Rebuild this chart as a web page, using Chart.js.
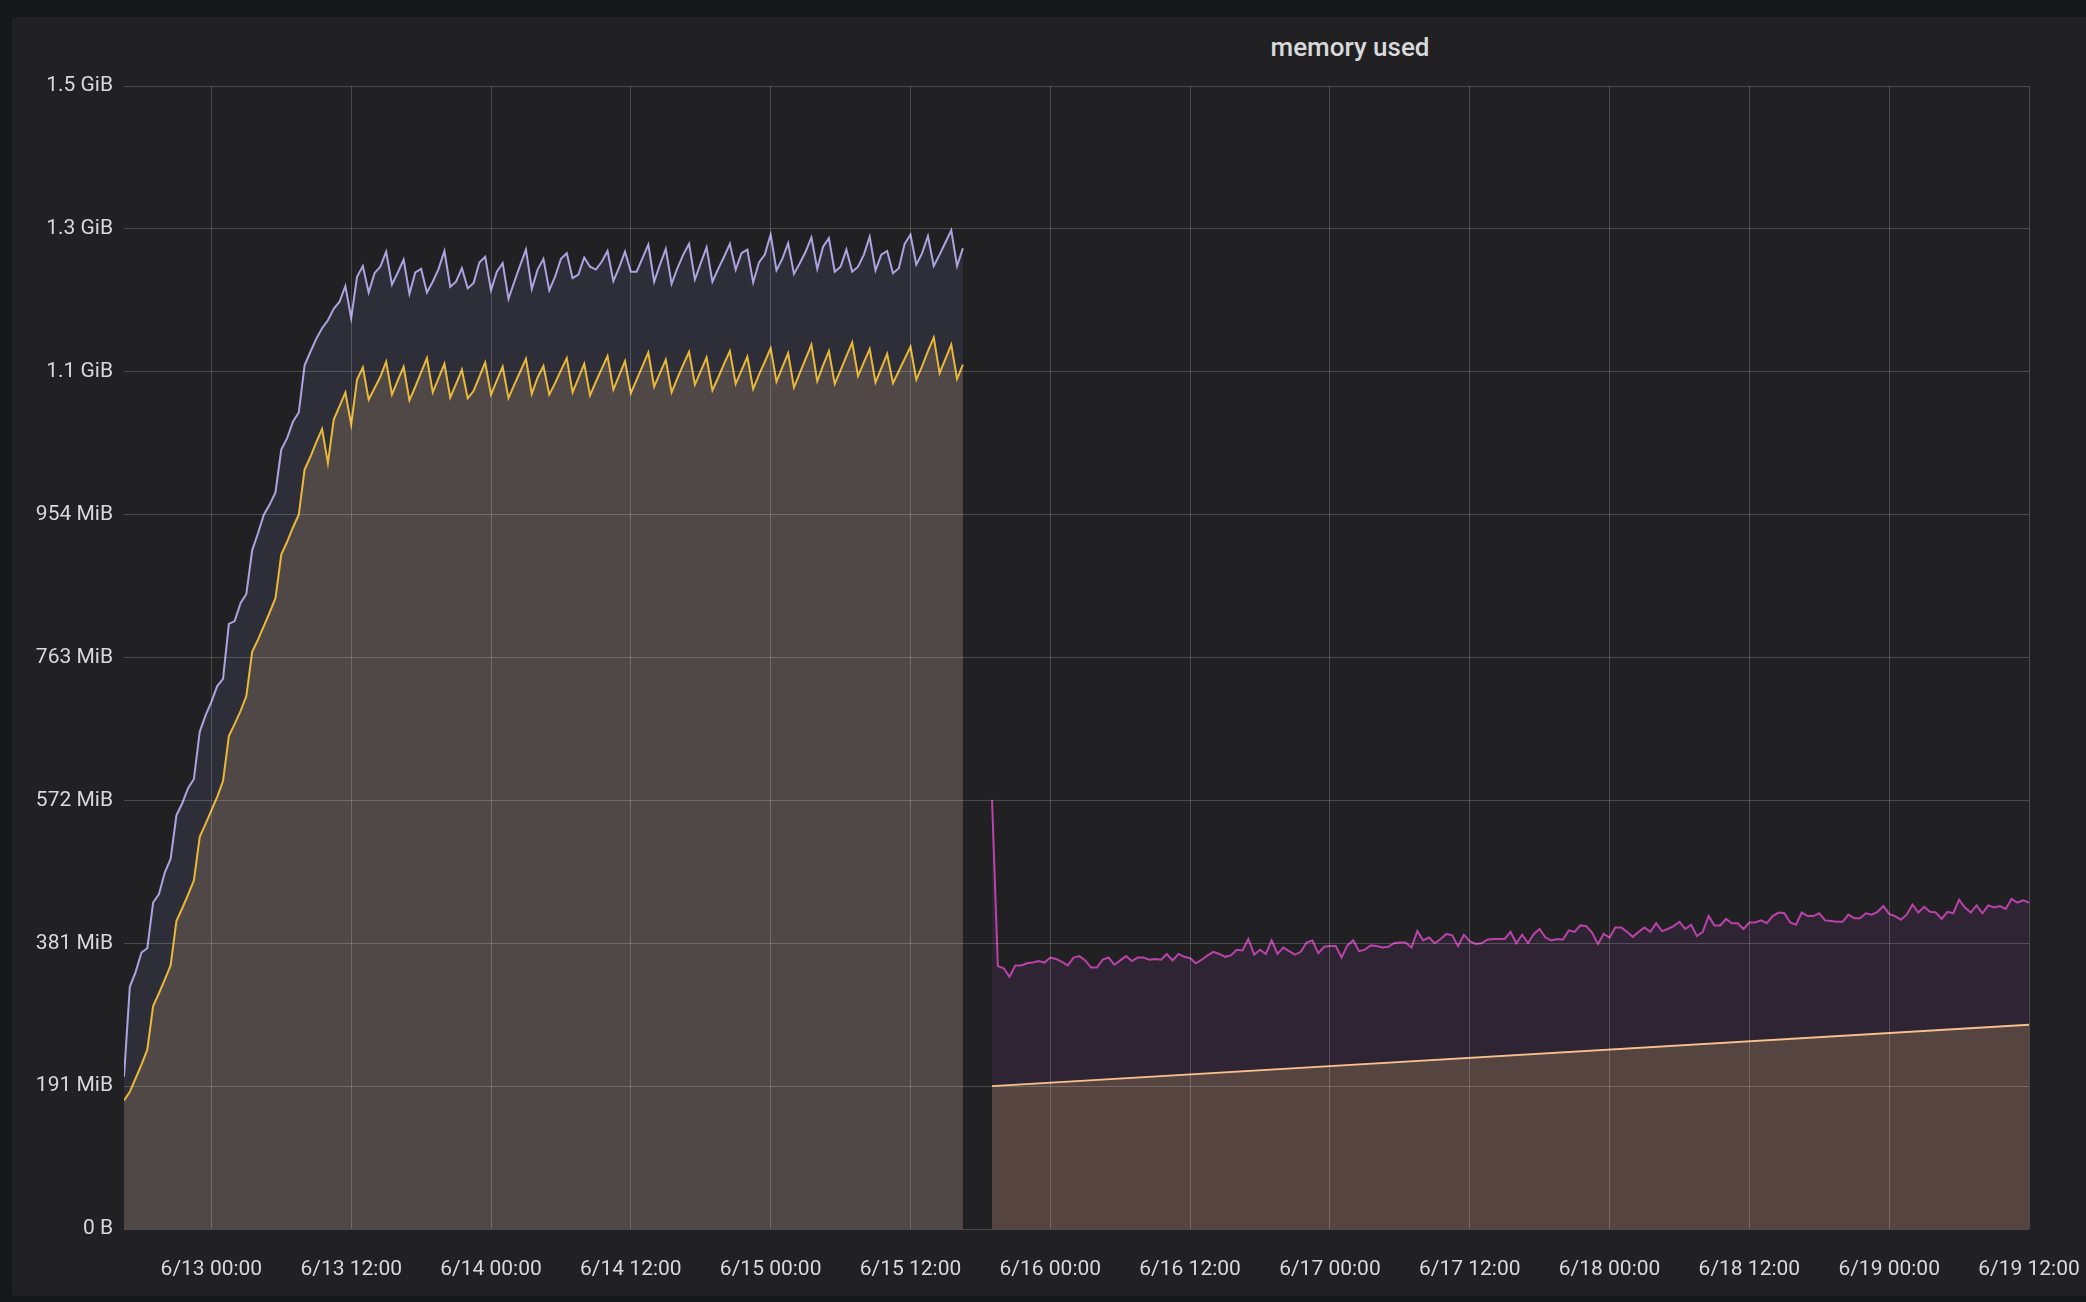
<!DOCTYPE html>
<html>
<head>
<meta charset="utf-8">
<title>memory used</title>
<script src="https://cdn.jsdelivr.net/npm/chart.js@4.4.1/dist/chart.umd.min.js"></script>
<style>
  html, body { margin: 0; padding: 0; width: 2086px; height: 1302px; overflow: hidden; background: #161719; }
  #panel { position: absolute; left: 12px; top: 17px; width: 2074px; height: 1279px; background: #212124; border-radius: 4px 0 0 4px; }
  #title { position: absolute; top: 34px; left: 1350px; transform: translateX(-50%); font: 500 26px/1 Roboto, sans-serif; color: #d8d9da; white-space: nowrap; }
  #chart { position: absolute; left: 0; top: 0; }
</style>
</head>
<body>
<div id="panel"></div>
<div id="title">memory used</div>
<canvas id="chart" width="2086" height="1302"></canvas>
<script>
// hours are counted from 6/13 00:00, values are in MB (1e6 bytes)
const stepHours = 0.5;

// first run: 6/12 16:30 .. 6/15 16:30
const runAStart = -7.5;
const runATotal = [
  213, 339, 360, 387, 393, 457, 469, 499, 518, 579, 596, 617, 630, 696, 719, 738, 760, 770, 847, 851, 876, 889, 950, 974,
  1000, 1014, 1031, 1091, 1107, 1130, 1143, 1209, 1228, 1246, 1261, 1272, 1288, 1298, 1320, 1275, 1333, 1348, 1311, 1338,
  1347, 1368, 1322, 1339, 1357, 1309, 1339, 1344, 1311, 1326, 1344, 1369, 1319, 1326, 1345, 1317, 1324, 1353, 1361, 1314,
  1340, 1352, 1302, 1326, 1349, 1371, 1316, 1343,
  1358, 1314, 1333, 1358, 1366, 1331, 1336, 1360, 1347, 1343, 1354, 1369, 1327, 1346, 1368, 1340, 1340, 1359, 1378, 1326,
  1350, 1372, 1323, 1345, 1364, 1379, 1329, 1352, 1374, 1326, 1344, 1361, 1379, 1343, 1366, 1371, 1325, 1353, 1364, 1392,
  1342, 1358, 1380, 1337, 1352, 1368, 1388, 1344, 1375, 1387, 1340, 1347, 1371, 1340, 1347, 1364, 1389, 1342, 1364, 1369,
  1338, 1345, 1379, 1392, 1350, 1366, 1390, 1348, 1364, 1381, 1398, 1348, 1373
];
const runAUsed = [
  180, 192, 211, 230, 251, 312, 330, 349, 369, 431, 449, 468, 488, 549, 567, 586, 605, 627, 690, 707, 725, 746, 808, 825,
  844, 863, 883, 944, 962, 982, 1000,
  1063, 1081, 1101, 1120, 1072, 1133, 1152, 1171, 1126, 1189, 1206, 1161, 1177, 1193, 1214, 1168, 1188, 1207, 1160, 1179,
  1199, 1219, 1171, 1191, 1211, 1164, 1183, 1203, 1163, 1173, 1193, 1213, 1168, 1188, 1207, 1163, 1182, 1200, 1218, 1169,
  1192, 1208, 1168, 1184, 1202, 1219, 1171, 1191, 1211, 1167, 1186, 1204, 1222, 1175, 1195, 1215, 1170, 1189, 1208, 1227,
  1179, 1198, 1217, 1171, 1191, 1210, 1228, 1182, 1201, 1220, 1174, 1192, 1211, 1229, 1183, 1202, 1221, 1176, 1196, 1214,
  1233, 1186, 1206, 1226, 1178, 1198, 1218, 1238, 1187, 1209, 1229, 1183, 1202, 1222, 1241, 1194, 1213, 1232, 1185, 1205,
  1225, 1184, 1201, 1218, 1235, 1189, 1208, 1229, 1248, 1198, 1218, 1238, 1190, 1210
];

// second run: 6/15 19:00 .. 6/19 12:00
const runBStart = 67;
const runBTotal = [
  601, 368, 365, 353, 369, 369, 372, 373, 375, 373, 380, 378, 374, 369, 380, 382, 376, 366, 366, 377, 380, 370, 376, 382,
  375, 380, 380, 377, 378, 377, 385, 376, 385, 381, 379, 372, 377, 383, 388, 385, 381, 383, 391, 390, 406, 384, 391, 385,
  404, 385, 394, 389, 384, 388, 401, 404, 386, 395, 396, 396, 380, 397, 404, 389, 391, 397, 396, 394, 395, 400, 401, 401,
  394, 417, 404, 408, 400, 406, 413, 411, 396, 412, 403, 399, 400, 405, 406, 406, 406,
  416, 400, 412, 400, 413, 420, 408, 404, 406, 405, 418, 416, 425, 424, 415, 399, 413, 408, 422, 422, 416, 409, 416, 422,
  416, 428, 417, 420, 424, 430, 420, 426, 410, 416, 438, 425, 425, 434, 428, 428, 420, 429, 429, 432, 428, 438, 443, 442,
  429, 426, 443, 438, 438, 442, 432, 431, 430, 430, 440, 435, 435, 442, 440, 444, 452, 441, 438, 433, 440, 454, 443, 451,
  444, 443, 434, 444, 442, 461, 450, 443, 453, 442, 453, 450, 452, 448, 462, 457, 460, 457
];
const runBUsedHours = [67, 156];
const runBUsed = [200, 286];

const xTickHours = [0, 12, 24, 36, 48, 60, 72, 84, 96, 108, 120, 132, 144, 156];
const xTickLabels = ['6/13 00:00', '6/13 12:00', '6/14 00:00', '6/14 12:00', '6/15 00:00', '6/15 12:00', '6/16 00:00',
  '6/16 12:00', '6/17 00:00', '6/17 12:00', '6/18 00:00', '6/18 12:00', '6/19 00:00', '6/19 12:00'];
const yTickLabels = ['0 B', '191 MiB', '381 MiB', '572 MiB', '763 MiB', '954 MiB', '1.1 GiB', '1.3 GiB', '1.5 GiB'];

const series = (start, values) => values.map((v, i) => ({ x: start + i * stepHours, y: v }));
const pairs = (hours, values) => values.map((v, i) => ({ x: hours[i], y: v }));

Chart.defaults.font.family = 'Roboto, sans-serif';
Chart.defaults.font.size = 21;
Chart.defaults.color = '#d8d9da';

const gridColor = 'rgba(255,255,255,0.19)';

new Chart(document.getElementById('chart'), {
  type: 'line',
  data: {
    datasets: [
      { data: series(runAStart, runAUsed), borderColor: '#EAB839', backgroundColor: '#4f4846', fill: 'origin' },
      { data: series(runAStart, runATotal), borderColor: '#AEA2E0', backgroundColor: '#2e2e38', fill: 'origin' },
      { data: pairs(runBUsedHours, runBUsed), borderColor: '#f8c08c', backgroundColor: '#554440', fill: 'origin' },
      { data: series(runBStart, runBTotal), borderColor: '#BA43A9', backgroundColor: '#2f2433', fill: 'origin' }
    ]
  },
  options: {
    responsive: false,
    devicePixelRatio: 1,
    animation: false,
    events: [],
    elements: {
      point: { radius: 0 },
      line: { borderWidth: 2, tension: 0 }
    },
    layout: { padding: { left: 0, right: 57, top: 86, bottom: 0 } },
    plugins: {
      legend: { display: false },
      tooltip: { enabled: false },
      title: { display: false }
    },
    scales: {
      x: {
        type: 'linear',
        min: -7.5,
        max: 156,
        border: { display: false },
        grid: { color: gridColor, lineWidth: 1, drawTicks: false, z: 1 },
        ticks: {
          padding: 28,
          autoSkip: false,
          maxRotation: 0,
          callback: (v) => xTickLabels[xTickHours.indexOf(v)]
        },
        afterBuildTicks: (scale) => { scale.ticks = xTickHours.map(h => ({ value: h })); },
        afterFit: (scale) => {
          scale.height = 73;
          scale.paddingLeft = 0;
          scale.paddingRight = 0;
        }
      },
      y: {
        min: 0,
        max: 1600,
        border: { display: false },
        grid: { color: gridColor, lineWidth: 1, drawTicks: false, z: 1 },
        ticks: {
          stepSize: 200,
          padding: 11,
          callback: (v, i) => yTickLabels[i]
        },
        afterFit: (scale) => {
          scale.width = 124;
          scale.paddingTop = 0;
          scale.paddingBottom = 0;
        }
      }
    }
  }
});
</script>
</body>
</html>
